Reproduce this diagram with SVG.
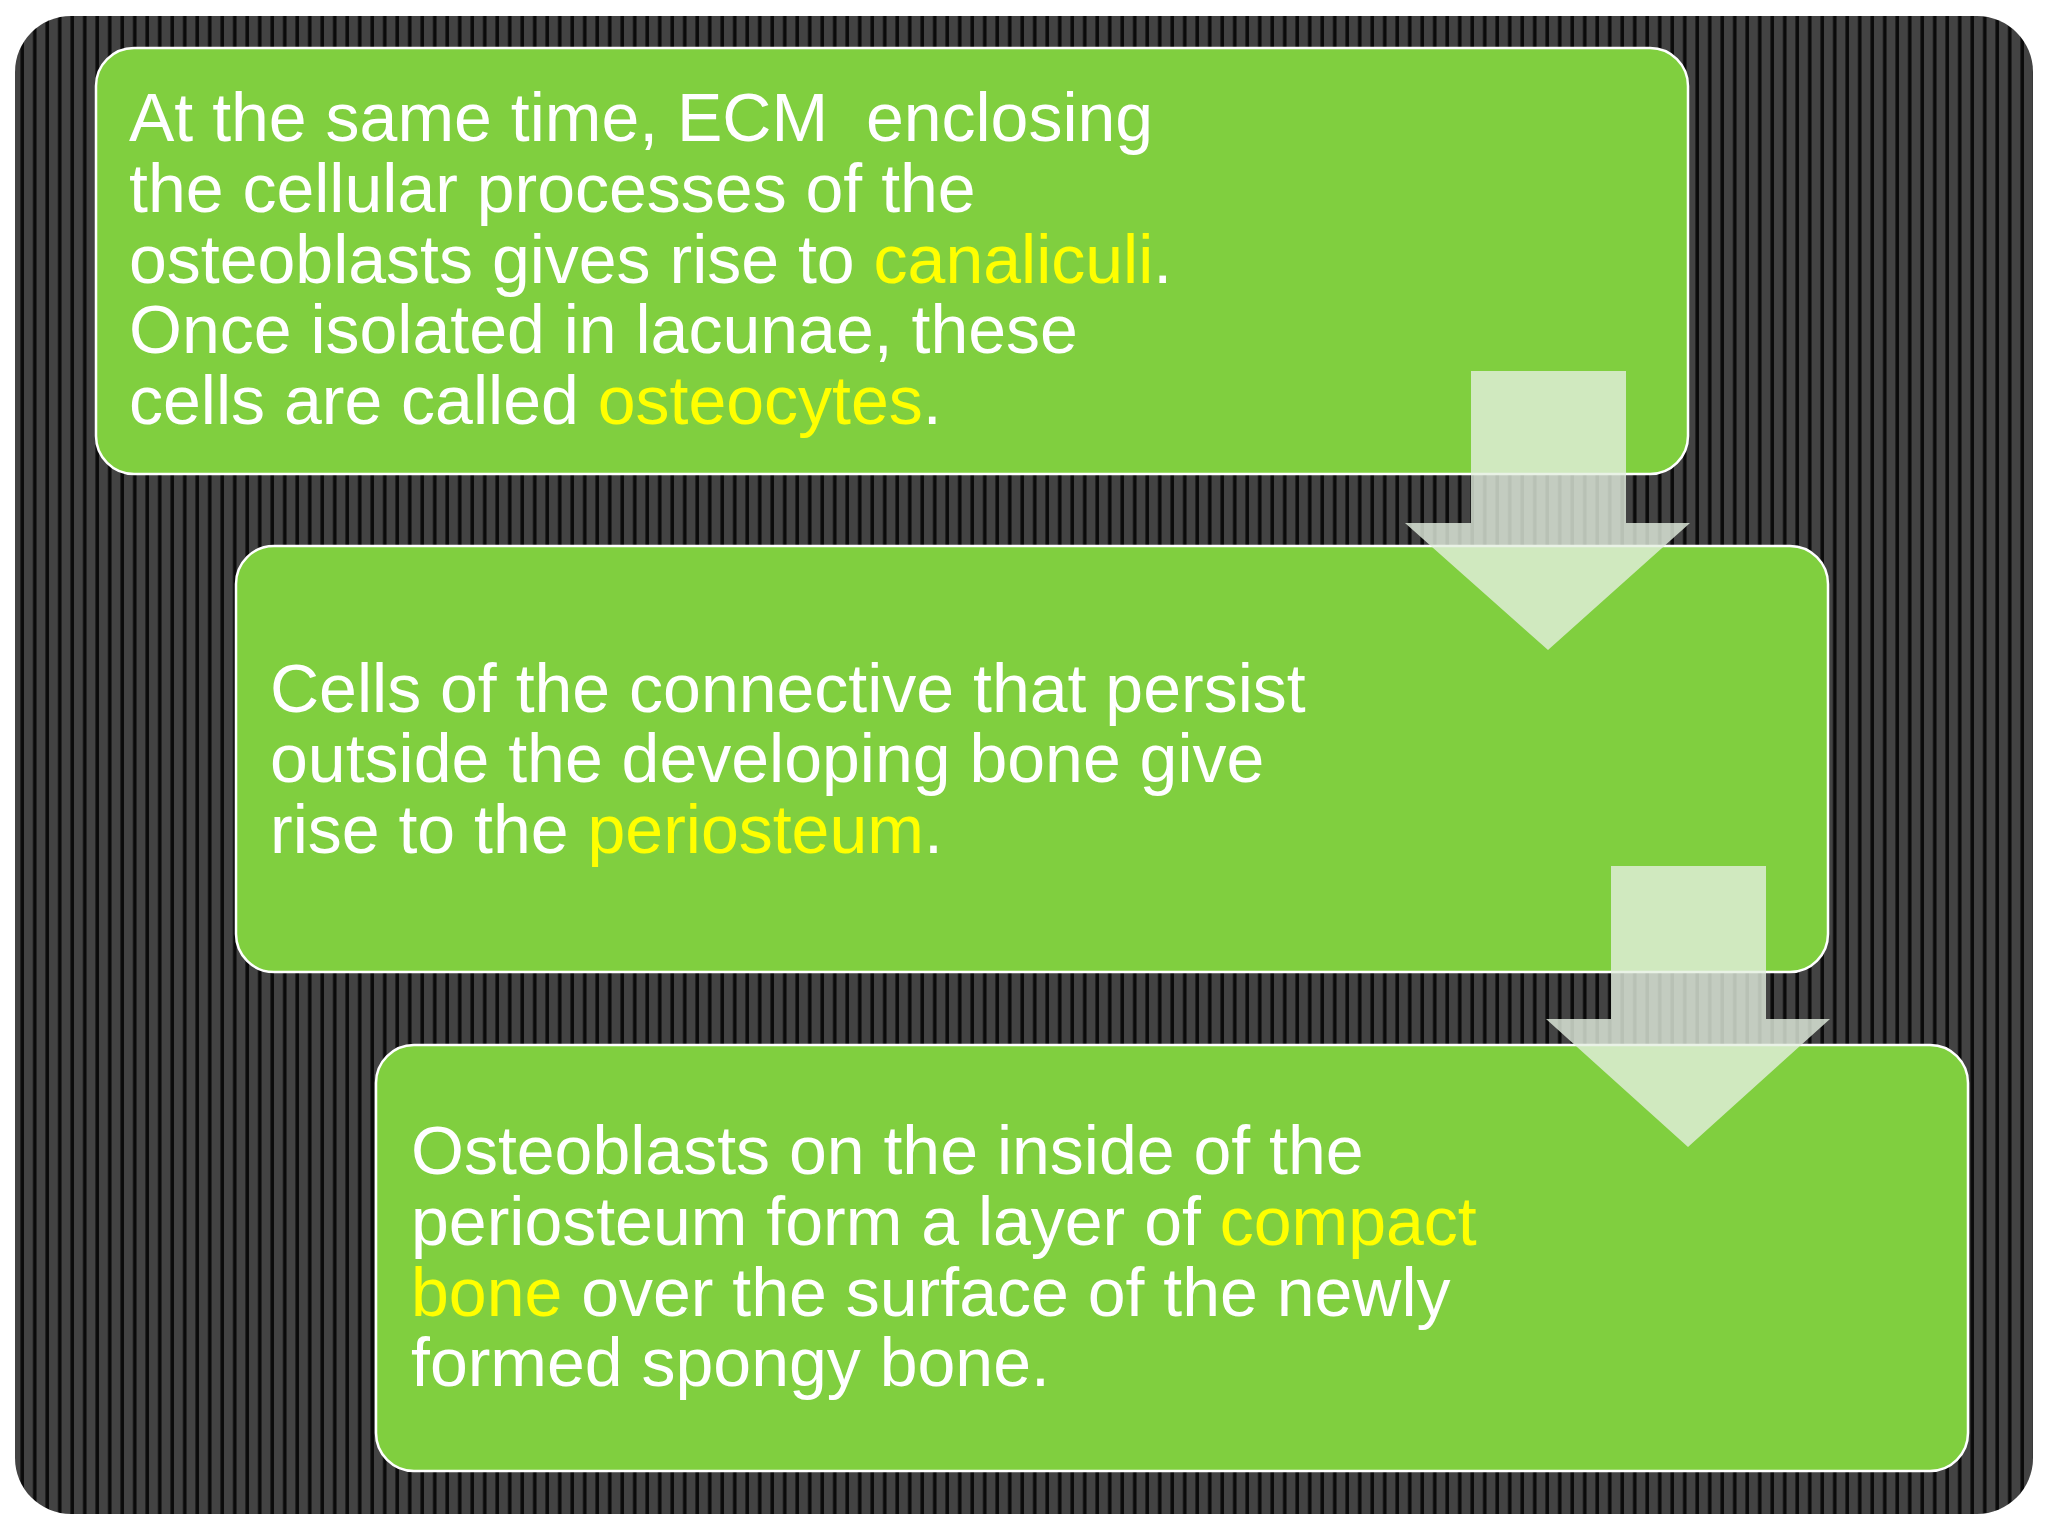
<svg xmlns="http://www.w3.org/2000/svg" width="2048" height="1536" viewBox="0 0 2048 1536">
  <defs>
    <pattern id="stripes" x="0" y="0" width="12.5" height="20" patternUnits="userSpaceOnUse">
      <rect width="12.5" height="20" fill="#434343"/>
      <rect x="8" width="3.5" height="20" fill="#0a0a0a"/>
    </pattern>
    <style>
      .box { fill: #80cf3f; stroke: #ffffff; stroke-width: 2.5; }
      .txt { font-family: "Liberation Sans", Arial, sans-serif; font-size: 68px; fill: #ffffff; }
      .hl { fill: #ffff00; }
      .arrow { fill: #e3efe0; fill-opacity: 0.8; }
    </style>
  </defs>
  <rect width="2048" height="1536" fill="#ffffff"/>
  <rect x="15" y="16" width="2018" height="1498" rx="56" ry="56" fill="url(#stripes)"/>

  <g id="node1">
    <rect class="box" x="96" y="48" width="1592" height="426" rx="38" ry="38"/>
    <text class="txt" xml:space="preserve">
      <tspan x="129" y="141">At the same time, ECM  enclosing</tspan>
      <tspan x="129" y="212">the cellular processes of the</tspan>
      <tspan x="129" y="283">osteoblasts gives rise to <tspan class="hl">canaliculi</tspan>.</tspan>
      <tspan x="129" y="353">Once isolated in lacunae, these</tspan>
      <tspan x="129" y="424">cells are called <tspan class="hl">osteocytes</tspan>.</tspan>
    </text>
  </g>

  <g id="node2">
    <rect class="box" x="236" y="546" width="1592" height="426" rx="38" ry="38"/>
    <text class="txt">
      <tspan x="270" y="712">Cells of the connective that persist</tspan>
      <tspan x="270" y="782">outside the developing bone give</tspan>
      <tspan x="270" y="853">rise to the <tspan class="hl">periosteum</tspan>.</tspan>
    </text>
  </g>

  <g id="node3">
    <rect class="box" x="376" y="1045" width="1592" height="426" rx="38" ry="38"/>
    <text class="txt">
      <tspan x="411" y="1174">Osteoblasts on the inside of the</tspan>
      <tspan x="411" y="1245">periosteum form a layer of <tspan class="hl">compact</tspan></tspan>
      <tspan x="411" y="1316"><tspan class="hl">bone</tspan> over the surface of the newly</tspan>
      <tspan x="411" y="1386">formed spongy bone.</tspan>
    </text>
  </g>

  <g id="connectors">
    <polygon class="arrow" points="1471,371 1626,371 1626,523 1690,523 1548,650 1405,523 1471,523"/>
    <polygon class="arrow" points="1611,866 1766,866 1766,1019 1830,1019 1688,1147 1546,1019 1611,1019"/>
  </g>
</svg>
